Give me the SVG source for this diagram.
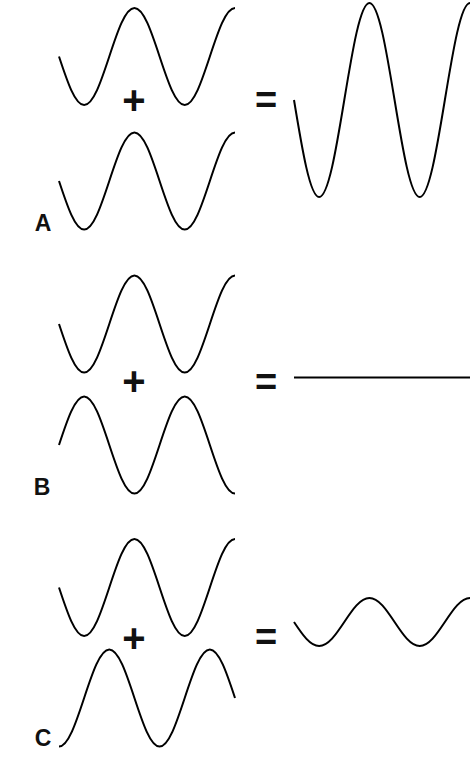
<svg xmlns="http://www.w3.org/2000/svg" width="474" height="765" viewBox="0 0 474 765">
<style>
.w{fill:none;stroke:#000;stroke-width:2;stroke-linecap:butt}
.op{font-family:"Liberation Sans",Arial,sans-serif;font-weight:bold;font-size:40px;text-anchor:middle;fill:#111}
.eq{font-family:"Liberation Sans",Arial,sans-serif;font-weight:bold;font-size:38px;text-anchor:middle;fill:#111}
.lb{font-family:"Liberation Sans",Arial,sans-serif;font-weight:bold;font-size:23px;text-anchor:middle;fill:#111}
</style>
<defs>
<path id="w" d="M0,0 C8.20,24.85 16.04,48.5 25.14,48.5 C34.24,48.5 42.08,24.85 50.29,0 C58.49,-24.85 66.33,-48.5 75.43,-48.5 C84.53,-48.5 92.37,-24.85 100.57,0 C108.77,24.85 116.61,48.5 125.71,48.5 C134.81,48.5 142.65,24.85 150.86,0 C159.06,-24.85 166.90,-48.5 176,-48.5"/>
</defs>
<g id="panelA">
<use class="w" href="#w" transform="translate(59,56.5)"/>
<use class="w" href="#w" transform="translate(59,181)"/>
<path class="w" transform="translate(294,100)" d="M0,0 C8.20,49.69 16.04,97 25.14,97 C34.24,97 42.08,49.69 50.29,0 C58.49,-49.69 66.33,-97 75.43,-97 C84.53,-97 92.37,-49.69 100.57,0 C108.77,49.69 116.61,97 125.71,97 C134.81,97 142.65,49.69 150.86,0 C159.06,-49.69 166.90,-97 176,-97"/>
<text class="op" x="134" y="114">+</text>
<text class="eq" x="266" y="113">=</text>
<text class="lb" x="43" y="230.5">A</text>
</g>
<g id="panelB">
<use class="w" href="#w" transform="translate(59,324)"/>
<use class="w" href="#w" transform="translate(59,445) scale(1,-1)"/>
<line class="w" x1="294" y1="377.5" x2="470" y2="377.5"/>
<text class="op" x="134" y="395">+</text>
<text class="eq" x="266" y="394.8">=</text>
<text class="lb" x="42" y="494.5">B</text>
</g>
<g id="panelC">
<use class="w" href="#w" transform="translate(59,587.5)"/>
<path class="w" transform="translate(59,698)" d="M0,48.5 C9.10,48.5 16.94,24.85 25.14,0 C33.34,-24.85 41.18,-48.5 50.29,-48.5 C59.39,-48.5 67.23,-24.85 75.43,0 C83.63,24.85 91.47,48.5 100.57,48.5 C109.67,48.5 117.51,24.85 125.71,0 C133.91,-24.85 141.75,-48.5 150.86,-48.5 C159.96,-48.5 167.80,-24.85 176,0"/>
<path class="w" transform="translate(294,622)" d="M0,0 C8.20,12.3 16.04,24 25.14,24 C34.24,24 42.08,12.3 50.29,0 C58.49,-12.3 66.33,-24 75.43,-24 C84.53,-24 92.37,-12.3 100.57,0 C108.77,12.3 116.61,24 125.71,24 C134.81,24 142.65,12.3 150.86,0 C159.06,-12.3 166.90,-24 176,-24"/>
<text class="op" x="134" y="652">+</text>
<text class="eq" x="266" y="649.5">=</text>
<text class="lb" x="43" y="745.5">C</text>
</g>
</svg>
